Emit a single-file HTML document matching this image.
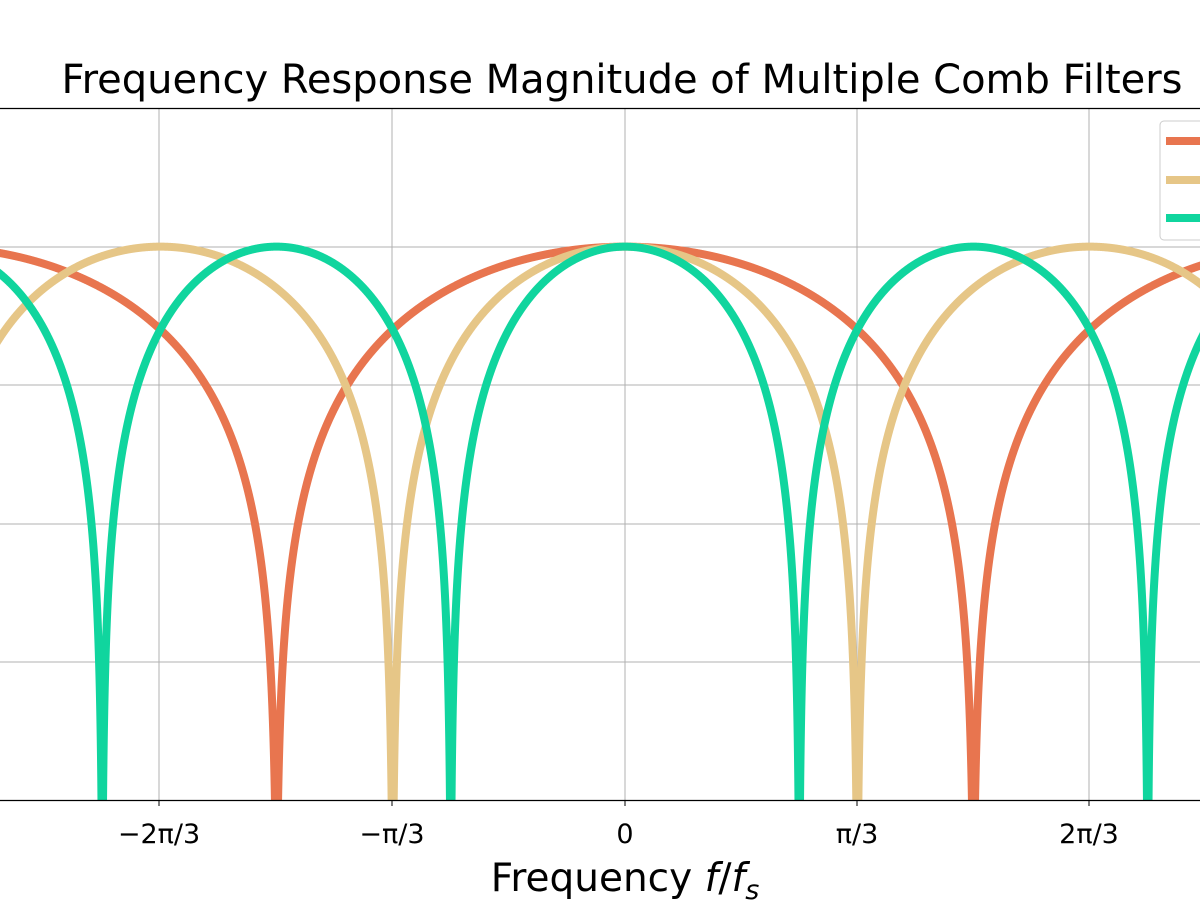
<!DOCTYPE html>
<html><head><meta charset="utf-8"><style>
html,body{margin:0;padding:0;background:#fff;}
svg{display:block;font-family:"DejaVu Sans","Liberation Sans",sans-serif;}
</style></head><body>
<svg id="s" width="1200" height="900" viewBox="0 0 1200 900" xmlns="http://www.w3.org/2000/svg">
<defs><clipPath id="c"><rect x="0" y="108" width="1200" height="692"/></clipPath></defs>
<rect width="1200" height="900" fill="#fff"/>
<g stroke="#b0b0b0" stroke-width="1">
<line x1="159" y1="108" x2="159" y2="800"/>
<line x1="392" y1="108" x2="392" y2="800"/>
<line x1="625" y1="108" x2="625" y2="800"/>
<line x1="857" y1="108" x2="857" y2="800"/>
<line x1="1089" y1="108" x2="1089" y2="800"/>
<line x1="0" y1="247" x2="1200" y2="247"/>
<line x1="0" y1="385" x2="1200" y2="385"/>
<line x1="0" y1="524" x2="1200" y2="524"/>
<line x1="0" y1="662" x2="1200" y2="662"/>
</g>
<g id="curves" clip-path="url(#c)" fill="none" stroke-width="8" stroke-linejoin="round"></g>
<line x1="0" y1="108.5" x2="1200" y2="108.5" stroke="#000" stroke-width="1.2"/>
<line x1="0" y1="800.5" x2="1200" y2="800.5" stroke="#000" stroke-width="1.2"/>
<g stroke="#000" stroke-width="1">
<line x1="159" y1="800" x2="159" y2="806"/><line x1="392" y1="800" x2="392" y2="806"/>
<line x1="625" y1="800" x2="625" y2="806"/><line x1="857" y1="800" x2="857" y2="806"/>
<line x1="1089" y1="800" x2="1089" y2="806"/>
</g>
<g font-size="27" text-anchor="middle" fill="#000">
<text x="159" y="843">−2π/3</text>
<text x="392" y="843">−π/3</text>
<text x="625" y="843">0</text>
<text x="857" y="843">π/3</text>
<text x="1089" y="843">2π/3</text>
</g>
<text x="622" y="93" font-size="40" text-anchor="middle">Frequency Response Magnitude of Multiple Comb Filters</text>
<text x="625" y="891" font-size="39" text-anchor="middle">Frequency <tspan font-style="italic">f</tspan>/<tspan font-style="italic">f</tspan><tspan font-size="27" dy="8" font-style="italic">s</tspan></text>
<rect x="1160" y="121" width="60" height="119" rx="4" fill="#fff" fill-opacity="0.85" stroke="#ccc" stroke-width="1"/>
<line x1="1166" y1="141" x2="1210" y2="141" stroke="#E8754F" stroke-width="8"/>
<line x1="1166" y1="180" x2="1210" y2="180" stroke="#E6C687" stroke-width="8"/>
<line x1="1166" y1="218" x2="1210" y2="218" stroke="#10D59E" stroke-width="8"/>
</svg>
<script>
var g=document.getElementById('curves');
var ser=[[2,'#E8754F'],[3,'#E6C687'],[4,'#10D59E']];
ser.forEach(function(s){
 var K=s[0],d='';
 for(var px=-5;px<=1205;px+=0.25){
  var w=(px-625)/697*Math.PI;
  var v=Math.abs(Math.cos(K*w/2))+0.003;
  var db=20*Math.log10(v);
  var y=247-db*13.83;
  d+=(d?'L':'M')+px.toFixed(2)+' '+y.toFixed(2);
 }
 var p=document.createElementNS('http://www.w3.org/2000/svg','path');
 p.setAttribute('d',d);p.setAttribute('stroke',s[1]);
 g.appendChild(p);
});
</script>
</body></html>
